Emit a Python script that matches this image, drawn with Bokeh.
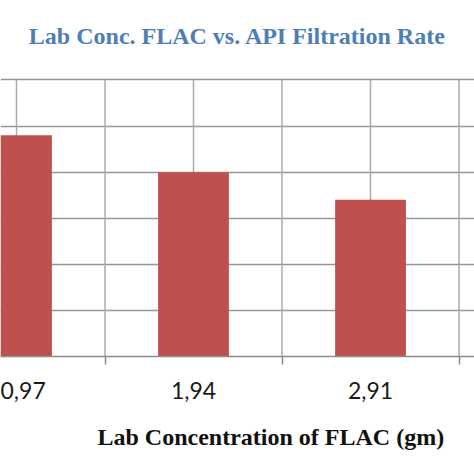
from bokeh.plotting import figure
from bokeh.models import FixedTicker, Title, Range1d
from bokeh.embed import file_html
from bokeh.resources import INLINE

# Lab concentration of FLAC (gm) and the measured API filtration rate
categories = ["0,97", "1,94", "2,91"]
filtration_rate = [9.6, 8.0, 6.8]
y_grid_values = [0, 2, 4, 6, 8, 10, 12]

positions = list(range(1, len(categories) + 1))
boundaries = [x + 0.5 for x in positions]

PX_PER_CAT = 177.0
x_start = 1 - 16 / PX_PER_CAT
x_end = x_start + 474 / PX_PER_CAT

p = figure(
    width=474, height=474,
    output_backend="svg", toolbar_location=None,
    x_range=Range1d(x_start, x_end),
    y_range=Range1d(0, 12.67),
    y_axis_location=None,
    min_border_left=0, min_border_right=0,
    min_border_top=64, min_border_bottom=118,
)
p.outline_line_color = None
p.background_fill_color = "white"
p.border_fill_color = "white"

# vertical gridlines at bar centres and category boundaries, spanning the value scale
v_lines = sorted(positions + boundaries)
p.xgrid.visible = False
p.segment(x0=v_lines, y0=[y_grid_values[0]] * len(v_lines),
          x1=v_lines, y1=[y_grid_values[-1]] * len(v_lines),
          line_color="#aaaaaa", line_width=1.5)

p.vbar(x=positions, top=filtration_rate, width=0.40,
       fill_color="#C0504D", line_color=None)

p.ygrid.ticker = FixedTicker(ticks=y_grid_values)
p.ygrid.grid_line_color = "#969696"
p.ygrid.grid_line_width = 1.5

xa = p.xaxis[0]
xa.ticker = FixedTicker(ticks=positions, minor_ticks=boundaries)
xa.major_label_overrides = {pos: lab for pos, lab in zip(positions, categories)}
xa.major_tick_out = 0
xa.major_tick_in = 0
xa.minor_tick_out = 8
xa.minor_tick_in = 0
xa.minor_tick_line_color = "#8c8c8c"
xa.minor_tick_line_width = 1.5
xa.axis_line_color = "#8c8c8c"
xa.axis_line_width = 1.5
xa.major_label_text_font = "Lato"
xa.major_label_text_font_size = "23px"
xa.major_label_text_color = "#1a1a1a"
xa.major_label_standoff = 17

p.title.text = "Lab Conc. FLAC vs. API Filtration Rate"
p.title.align = "center"
p.title.text_font = "Liberation Serif"
p.title.text_font_style = "bold"
p.title.text_font_size = "24px"
p.title.text_color = "#4F7DB8"
p.title.standoff = 32

p.add_layout(Title(text="Lab Concentration of FLAC (gm)", align="left",
                   offset=97, text_font="Liberation Serif",
                   text_font_style="bold", text_font_size="24px",
                   text_color="#111111", standoff=40), "below")

open("out.html", "w").write(file_html(p, INLINE))
